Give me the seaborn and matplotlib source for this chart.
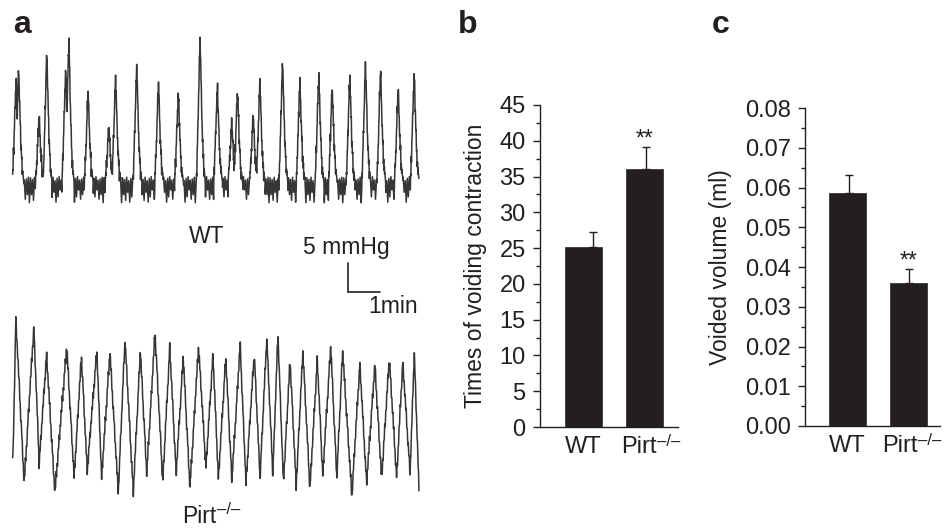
import numpy as np
import pandas as pd
import matplotlib
matplotlib.use("Agg")
import matplotlib.pyplot as plt
import seaborn as sns
from matplotlib.ticker import MultipleLocator, FormatStrFormatter
from matplotlib.transforms import ScaledTranslation

sns.set_theme(style="ticks")
plt.rcParams["font.family"] = ["Liberation Sans", "DejaVu Sans"]

# ---------------- data ----------------
GROUPS = ["WT", "Pirt"]
GROUP_SUPER = ["", "\u2013/\u2013"]
CONTRACTIONS = [25.1, 36.0]
CONTRACTIONS_SEM = [2.1, 3.1]
VOLUME = [0.0585, 0.0359]
VOLUME_SEM = [0.0046, 0.0035]
SIGNIF = ["", "**"]

# WT cystometry trace: peak times (min) and peak amplitude above baseline (mmHg)
WT_PEAK_T = [0.13, 0.21, 0.85, 1.09, 1.68, 1.78, 2.38, 3.03, 3.24, 3.90,
             4.58, 5.20, 5.88, 6.42, 6.87, 7.05, 7.54, 7.75, 8.46, 9.00,
             9.59, 10.01, 10.56, 11.05, 11.52, 12.07, 12.57]
WT_PEAK_AMP = [17.9, 20.1, 11.7, 22.9, 19.8, 24.9, 15.9, 9.8, 18.6, 20.5,
               17.5, 15.7, 25.3, 16.9, 10.6, 16.3, 11.7, 17.6, 21.2, 17.8,
               18.9, 16.5, 18.6, 20.6, 19.7, 16.6, 19.3]
WT_RIPPLE = [0.9, -2.0, 0.6, -3.0, 1.0, -1.6, 0.4, -3.3, 0.8, -2.4, 1.1,
             -1.2, 0.5, -2.8, 0.7, -2.0, 1.0, -3.4]
PEAK_JITTER = [0.0, -1.8, 0.5, -1.2, 1.0, -2.2, 0.3, -0.9, 0.8, -1.5]

# Pirt-/- trace: peaks and troughs (min, mmHg relative to baseline)
PIRT_PEAK_T = [0.12, 0.68, 1.08, 1.71, 2.17, 2.65, 3.06, 3.53, 4.01, 4.47,
               4.93, 5.35, 5.83, 6.28, 6.68, 7.13, 7.57, 7.96, 8.31, 8.69,
               9.09, 9.54, 9.96, 10.33, 10.87, 11.34, 11.79, 12.21, 12.57]
PIRT_PEAK_AMP = [27.9, 26.3, 21.8, 23.1, 21.4, 22.3, 22.1, 24.4, 22.4, 25.5,
                 23.0, 21.4, 23.1, 21.6, 21.2, 23.4, 21.8, 24.6, 25.3, 20.6,
                 22.2, 20.9, 23.2, 22.4, 20.2, 19.9, 21.1, 20.5, 22.1]
PIRT_TROUGH_T = [0.03, 0.38, 0.85, 1.34, 1.94, 2.35, 2.80, 3.32, 3.79, 4.21,
                 4.71, 5.13, 5.56, 6.06, 6.45, 6.87, 7.31, 7.75, 8.15, 8.48,
                 8.88, 9.31, 9.71, 10.15, 10.62, 11.08, 11.55, 12.02, 12.44, 12.72]
PIRT_TROUGH_P = [4.0, -0.5, 2.9, -2.1, 0.5, 1.7, 0.5, -2.1, -2.1, 1.2,
                 -0.3, 1.2, -1.2, 2.2, 0.3, 0.0, -0.5, 0.5, 1.2, -0.5,
                 -0.9, -1.4, 0.9, 0.3, -2.6, -0.5, 0.3, 0.5, 1.2, -2.1]
PIRT_RIPPLE = [0.8, -0.6, 1.1, -0.9, 0.3, -1.2, 0.6, -0.4, 0.9, -1.0, 0.4, -0.8]

# ---------------- style constants ----------------
INK = "#231f20"
TRACE = "#363636"
PX_PER_MIN = 32.0
PX_PER_MMHG = 5.8
W, H = 946, 529
FS = 16.5
FS_TICK = 17
FS_SUP = 12

fig = plt.figure(figsize=(W / 100, H / 100), dpi=100)

# ---------------- panel a: traces ----------------
ax_a = fig.add_axes([0, 0, 440 / W, 1])
ax_a.set_xlim(-12 / PX_PER_MIN, 428 / PX_PER_MIN)
ax_a.set_ylim(0, H / PX_PER_MMHG)

t = np.arange(0.02, 12.72, 0.004)

def cycled(values, step):
    reps = np.resize(values, int(14 / step) + 2)
    return np.interp(t, np.arange(len(reps)) * step, reps)

# WT: narrow contractions on a rippling baseline
pulse_dt = np.array([-0.12, -0.06, -0.025, 0.0, 0.025, 0.055, 0.10, 0.16])
pulse_fr = np.array([0.0, 0.5, 0.86, 1.0, 0.75, 0.45, 0.17, 0.0])
wt = cycled(WT_RIPPLE, 0.032)
jit = cycled(PEAK_JITTER, 0.011)
for tp, amp in zip(WT_PEAK_T, WT_PEAK_AMP):
    p = np.interp(t - tp, pulse_dt, pulse_fr * amp, left=-np.inf, right=-np.inf)
    wt = np.maximum(wt, p + jit * (p > 2))
WT_OFFSET = (H - 183) / PX_PER_MMHG

# Pirt: peaks joined to troughs
vt = np.concatenate([PIRT_PEAK_T, PIRT_TROUGH_T])
vp = np.concatenate([PIRT_PEAK_AMP, PIRT_TROUGH_P])
order = np.argsort(vt)
pirt = np.interp(t, vt[order], vp[order]) + cycled(PIRT_RIPPLE, 0.016)
PIRT_OFFSET = (H - 480) / PX_PER_MMHG

sns.lineplot(x=t, y=wt + WT_OFFSET, ax=ax_a, color=TRACE, lw=1.1,
             estimator=None, sort=False, legend=False)
sns.lineplot(x=t, y=pirt + PIRT_OFFSET, ax=ax_a, color=TRACE, lw=1.1,
             estimator=None, sort=False, legend=False)
ax_a.axis("off")

def px(xp):
    return (xp - 12) / PX_PER_MIN

def py(yp):
    return (H - yp) / PX_PER_MMHG

# scale bar 5 mmHg / 1 min
sb_x, sb_y = px(347.5), py(291.5)
ax_a.plot([sb_x, sb_x, sb_x + 1.0], [sb_y + 5.0, sb_y, sb_y], color=INK, lw=1.2,
          solid_joinstyle="miter")
ax_a.text(px(207), py(243), "WT", ha="center", va="baseline", fontsize=FS, color=INK)
ax_a.text(px(303), py(254), "5 mmHg", ha="left", va="baseline", fontsize=FS, color=INK)
ax_a.text(px(368), py(313), "1min", ha="left", va="baseline", fontsize=FS, color=INK)
pl = ax_a.text(px(182), py(523), "Pirt", ha="left", va="baseline", fontsize=FS, color=INK)
ax_a.annotate(GROUP_SUPER[1], xy=(1.0, 1.0), xycoords=pl, ha="left", va="top",
              fontsize=FS_SUP, color=INK, xytext=(0.3, 2.0), textcoords="offset points")

# ---------------- bar panels ----------------
def bar_panel(rect, values, sems, ylim, major, minor, fmt, ylabel, label_x,
              xlim, err_dx, star_y, label_shift_px):
    ax = fig.add_axes(rect)
    df = pd.DataFrame({"group": GROUPS, "value": values})
    sns.barplot(data=df, x="group", y="value", ax=ax, color=INK, saturation=1,
                width=0.607, errorbar=None, edgecolor="#3b3738", linewidth=0.6)
    err_x = [i + d for i, d in enumerate(err_dx)]
    ax.errorbar(err_x, values, yerr=[[0, 0], sems], fmt="none", ecolor=INK,
                elinewidth=1.0, capsize=2.6, capthick=1.0)
    for i, s in enumerate(SIGNIF):
        if s:
            ax.text(i, star_y, s, ha="center", va="center", fontsize=FS, color=INK)
    ax.set_ylim(*ylim)
    ax.set_xlim(*xlim)
    ax.yaxis.set_major_locator(MultipleLocator(major))
    ax.yaxis.set_minor_locator(MultipleLocator(minor))
    if fmt:
        ax.yaxis.set_major_formatter(FormatStrFormatter(fmt))
    for side in ("top", "right"):
        ax.spines[side].set_visible(False)
    for side in ("left", "bottom"):
        ax.spines[side].set_color(INK)
        ax.spines[side].set_linewidth(1.0)
    ax.tick_params(axis="y", which="major", direction="out", length=5.3, width=1.0,
                   color=INK, labelsize=FS_TICK, labelcolor=INK, pad=5, left=True)
    ax.tick_params(axis="y", which="minor", direction="out", length=2.9, width=1.0,
                   color=INK, left=True)
    ax.tick_params(axis="x", length=0, labelsize=FS_TICK, labelcolor=INK, pad=19)
    labels = ax.get_xticklabels()
    for lab in labels:
        lab.set_verticalalignment("baseline")
    for lab, sup in zip(labels, GROUP_SUPER):
        if sup:
            lab.set_transform(lab.get_transform() +
                              ScaledTranslation(-label_shift_px / 100, 0,
                                                fig.dpi_scale_trans))
            ax.annotate(sup, xy=(1.0, 1.0), xycoords=lab, ha="left", va="top",
                        fontsize=FS_SUP, color=INK, xytext=(0.3, 2.0),
                        textcoords="offset points")
    ax.set_xlabel("")
    ax.set_ylabel(ylabel, fontsize=FS, color=INK)
    ax.yaxis.set_label_coords(label_x, 0.5)
    return ax

ax_b = bar_panel([540 / W, (H - 427) / H, 138 / W, 322 / H], CONTRACTIONS,
                 CONTRACTIONS_SEM, (0, 45), 5, 2.5, None,
                 "Times of voiding contraction", -0.385, (-0.713, 1.549),
                 [0.15, 0.03], 40.2, 6)
ax_c = bar_panel([805 / W, (H - 426) / H, 135 / W, 318 / H], VOLUME,
                 VOLUME_SEM, (0, 0.08), 0.01, 0.005, "%.2f",
                 "Voided volume (ml)", -0.541, (-0.694, 1.51),
                 [0.03, 0.0], 0.0416, 9)

# panel letters
for xp, letter in [(13, "a"), (458, "b"), (712, "c")]:
    fig.text(xp / W, 1 - 33 / H, letter, fontsize=23, fontweight="bold",
             va="baseline", ha="left", color=INK)

fig.savefig("out.png", dpi=100)
